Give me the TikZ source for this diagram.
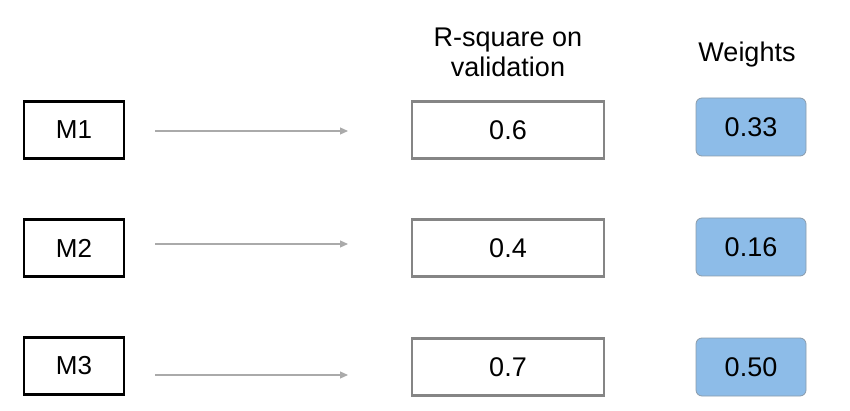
\documentclass[tikz,border=0pt]{standalone}
\usepackage{fontspec}
\setmainfont{Liberation Sans}
\usetikzlibrary{arrows.meta}
\definecolor{wfill}{HTML}{8DBCE8}
\definecolor{wdraw}{HTML}{8A9BAA}
\definecolor{rdraw}{HTML}{858585}
\definecolor{arr}{HTML}{AAAAAA}
\begin{document}
\begin{tikzpicture}[x=1pt,y=-1pt,
  mbox/.style={draw=black,line width=2.4pt,minimum width=100pt,minimum height=57pt,inner sep=0pt,font=\fontsize{26}{30}\selectfont},
  rbox/.style={draw=rdraw,line width=2.2pt,minimum width=192pt,minimum height=57pt,inner sep=0pt,font=\fontsize{27}{30}\selectfont},
  wbox/.style={draw=wdraw,fill=wfill,line width=0.8pt,rounded corners=6pt,minimum width=110pt,minimum height=58pt,inner sep=0pt,font=\fontsize{27}{30}\selectfont},
  hdr/.style={align=center,font=\fontsize{27}{30}\selectfont,inner sep=0pt},
  conn/.style={draw=arr,line width=1.1pt,-{Triangle[length=8pt,width=7pt]}}]
\useasboundingbox (0,0) rectangle (850,411);
\node[hdr] (h1) at (508,52) {R-square on\\validation};
\node[hdr] (h2) at (747,55) {Weights};
\node[mbox] (m1) at (74,130) {M1};
\node[mbox] (m2) at (74,248) {M2};
\node[mbox] (m3) at (74,366) {M3};
\node[rbox] (r1) at (508,130) {0.6};
\node[rbox] (r2) at (508,248) {0.4};
\node[rbox] (r3) at (508,367) {0.7};
\node[wbox] (w1) at (751,127) {0.33};
\node[wbox] (w2) at (751,247) {0.16};
\node[wbox] (w3) at (751,367) {0.50};
\coordinate (a1s) at (155,131); \coordinate (a1e) at (348,131);
\coordinate (a2s) at (155,244); \coordinate (a2e) at (348,244);
\coordinate (a3s) at (155,375); \coordinate (a3e) at (348,375);
\draw[conn] (a1s) -- (a1e);
\draw[conn] (a2s) -- (a2e);
\draw[conn] (a3s) -- (a3e);
\end{tikzpicture}
\end{document}
